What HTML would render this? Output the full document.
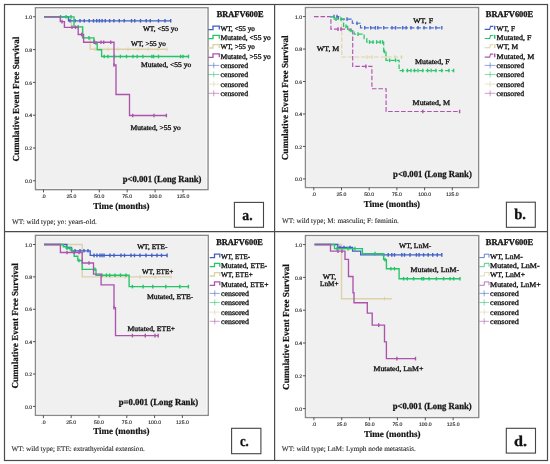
<!DOCTYPE html>
<html><head><meta charset="utf-8"><style>
html,body{margin:0;padding:0;background:#fff;width:550px;height:464px;overflow:hidden;}
svg{display:block;will-change:transform;text-rendering:geometricPrecision;}
</style></head><body>
<svg width="550" height="464" viewBox="0 0 550 464">
<rect x="0" y="0" width="550" height="464" fill="#fff"/>
<rect x="4.5" y="4.5" width="543" height="456" fill="none" stroke="#4a4a4a" stroke-width="1.2"/>
<path d="M274.6,4.5 V460.5 M4.5,231.6 H547.5" stroke="#4a4a4a" stroke-width="1.2" fill="none"/>
<rect x="35.5" y="7.8" width="172.5" height="181.79999999999998" fill="#f0f0f0" stroke="#8a8a8a" stroke-width="1.5"/>
<rect x="36.75" y="9.05" width="170.0" height="179.29999999999998" fill="none" stroke="#fafafa" stroke-width="0.9"/>
<path d="M32.90,180.80 H35.50" fill="none" stroke="#444" stroke-width="0.9"/>
<text x="32.20" y="183.00" font-family='"Liberation Sans", sans-serif' font-size="5.1" text-anchor="end" fill="#1a1a1a" stroke="#1a1a1a" stroke-width="0.12">0.0</text>
<path d="M32.90,148.00 H35.50" fill="none" stroke="#444" stroke-width="0.9"/>
<text x="32.20" y="150.20" font-family='"Liberation Sans", sans-serif' font-size="5.1" text-anchor="end" fill="#1a1a1a" stroke="#1a1a1a" stroke-width="0.12">0.2</text>
<path d="M32.90,115.20 H35.50" fill="none" stroke="#444" stroke-width="0.9"/>
<text x="32.20" y="117.40" font-family='"Liberation Sans", sans-serif' font-size="5.1" text-anchor="end" fill="#1a1a1a" stroke="#1a1a1a" stroke-width="0.12">0.4</text>
<path d="M32.90,82.40 H35.50" fill="none" stroke="#444" stroke-width="0.9"/>
<text x="32.20" y="84.60" font-family='"Liberation Sans", sans-serif' font-size="5.1" text-anchor="end" fill="#1a1a1a" stroke="#1a1a1a" stroke-width="0.12">0.6</text>
<path d="M32.90,49.60 H35.50" fill="none" stroke="#444" stroke-width="0.9"/>
<text x="32.20" y="51.80" font-family='"Liberation Sans", sans-serif' font-size="5.1" text-anchor="end" fill="#1a1a1a" stroke="#1a1a1a" stroke-width="0.12">0.8</text>
<path d="M32.90,16.80 H35.50" fill="none" stroke="#444" stroke-width="0.9"/>
<text x="32.20" y="19.00" font-family='"Liberation Sans", sans-serif' font-size="5.1" text-anchor="end" fill="#1a1a1a" stroke="#1a1a1a" stroke-width="0.12">1.0</text>
<path d="M43.50,189.60 V192.40" fill="none" stroke="#444" stroke-width="0.9"/>
<text x="43.50" y="198.00" font-family='"Liberation Sans", sans-serif' font-size="5.1" text-anchor="middle" fill="#1a1a1a" stroke="#1a1a1a" stroke-width="0.12">.0</text>
<path d="M71.40,189.60 V192.40" fill="none" stroke="#444" stroke-width="0.9"/>
<text x="71.40" y="198.00" font-family='"Liberation Sans", sans-serif' font-size="5.1" text-anchor="middle" fill="#1a1a1a" stroke="#1a1a1a" stroke-width="0.12">25.0</text>
<path d="M99.30,189.60 V192.40" fill="none" stroke="#444" stroke-width="0.9"/>
<text x="99.30" y="198.00" font-family='"Liberation Sans", sans-serif' font-size="5.1" text-anchor="middle" fill="#1a1a1a" stroke="#1a1a1a" stroke-width="0.12">50.0</text>
<path d="M127.20,189.60 V192.40" fill="none" stroke="#444" stroke-width="0.9"/>
<text x="127.20" y="198.00" font-family='"Liberation Sans", sans-serif' font-size="5.1" text-anchor="middle" fill="#1a1a1a" stroke="#1a1a1a" stroke-width="0.12">75.0</text>
<path d="M155.10,189.60 V192.40" fill="none" stroke="#444" stroke-width="0.9"/>
<text x="155.10" y="198.00" font-family='"Liberation Sans", sans-serif' font-size="5.1" text-anchor="middle" fill="#1a1a1a" stroke="#1a1a1a" stroke-width="0.12">100.0</text>
<path d="M183.00,189.60 V192.40" fill="none" stroke="#444" stroke-width="0.9"/>
<text x="183.00" y="198.00" font-family='"Liberation Sans", sans-serif' font-size="5.1" text-anchor="middle" fill="#1a1a1a" stroke="#1a1a1a" stroke-width="0.12">125.0</text>
<text x="0" y="0" transform="translate(18.60,99.10) rotate(-90)" font-family='"Liberation Serif", serif' font-size="9.2" font-weight="bold" text-anchor="middle" textLength="125.00" lengthAdjust="spacingAndGlyphs" fill="#111" stroke="#111" stroke-width="0.2">Cumulative Event Free Survival</text>
<text x="93.20" y="209.20" font-family='"Liberation Serif", serif' font-size="9.2" font-weight="bold" textLength="56.40" lengthAdjust="spacingAndGlyphs" text-anchor="start" fill="#111" stroke="#111" stroke-width="0.2">Time (months)</text>
<path d="M44,16.8 H71.4 V26.8 H82.4 V37.9 H90.2 V49.2 H167" fill="none" stroke="#dbd2a8" stroke-width="1.35"/>
<path d="M95.00,47.40 V51.00" fill="none" stroke="#dbd2a8" stroke-width="1.0"/>
<path d="M100.00,47.40 V51.00" fill="none" stroke="#dbd2a8" stroke-width="1.0"/>
<path d="M108.00,47.40 V51.00" fill="none" stroke="#dbd2a8" stroke-width="1.0"/>
<path d="M118.00,47.40 V51.00" fill="none" stroke="#dbd2a8" stroke-width="1.0"/>
<path d="M128.00,47.40 V51.00" fill="none" stroke="#dbd2a8" stroke-width="1.0"/>
<path d="M138.00,47.40 V51.00" fill="none" stroke="#dbd2a8" stroke-width="1.0"/>
<path d="M148.00,47.40 V51.00" fill="none" stroke="#dbd2a8" stroke-width="1.0"/>
<path d="M158.00,47.40 V51.00" fill="none" stroke="#dbd2a8" stroke-width="1.0"/>
<path d="M167.00,47.40 V51.00" fill="none" stroke="#dbd2a8" stroke-width="1.0"/>
<path d="M44,16.8 H68.5 V20.8 H170.7" fill="none" stroke="#4060c4" stroke-width="1.35"/>
<path d="M70.00,19.00 V22.60" fill="none" stroke="#4060c4" stroke-width="1.4"/>
<path d="M75.00,19.00 V22.60" fill="none" stroke="#4060c4" stroke-width="1.4"/>
<path d="M80.00,19.00 V22.60" fill="none" stroke="#4060c4" stroke-width="1.4"/>
<path d="M84.30,19.00 V22.60" fill="none" stroke="#4060c4" stroke-width="1.4"/>
<path d="M89.20,19.00 V22.60" fill="none" stroke="#4060c4" stroke-width="1.4"/>
<path d="M93.50,19.00 V22.60" fill="none" stroke="#4060c4" stroke-width="1.4"/>
<path d="M96.70,19.00 V22.60" fill="none" stroke="#4060c4" stroke-width="1.4"/>
<path d="M99.40,19.00 V22.60" fill="none" stroke="#4060c4" stroke-width="1.4"/>
<path d="M102.10,19.00 V22.60" fill="none" stroke="#4060c4" stroke-width="1.4"/>
<path d="M105.30,19.00 V22.60" fill="none" stroke="#4060c4" stroke-width="1.4"/>
<path d="M109.60,19.00 V22.60" fill="none" stroke="#4060c4" stroke-width="1.4"/>
<path d="M113.90,19.00 V22.60" fill="none" stroke="#4060c4" stroke-width="1.4"/>
<path d="M119.30,19.00 V22.60" fill="none" stroke="#4060c4" stroke-width="1.4"/>
<path d="M124.20,19.00 V22.60" fill="none" stroke="#4060c4" stroke-width="1.4"/>
<path d="M131.50,19.00 V22.60" fill="none" stroke="#4060c4" stroke-width="1.4"/>
<path d="M134.70,19.00 V22.60" fill="none" stroke="#4060c4" stroke-width="1.4"/>
<path d="M140.50,19.00 V22.60" fill="none" stroke="#4060c4" stroke-width="1.4"/>
<path d="M146.20,19.00 V22.60" fill="none" stroke="#4060c4" stroke-width="1.4"/>
<path d="M150.30,19.00 V22.60" fill="none" stroke="#4060c4" stroke-width="1.4"/>
<path d="M158.50,19.00 V22.60" fill="none" stroke="#4060c4" stroke-width="1.4"/>
<path d="M165.00,19.00 V22.60" fill="none" stroke="#4060c4" stroke-width="1.4"/>
<path d="M170.70,19.00 V22.60" fill="none" stroke="#4060c4" stroke-width="1.4"/>
<path d="M44,16.8 H74 V26.8 H82.7 V37.9 H94 V43.3 H97.2 V49.7 H101.6 V56.5 H188.5" fill="none" stroke="#25c468" stroke-width="1.35"/>
<path d="M60.50,15.00 V18.60" fill="none" stroke="#25c468" stroke-width="1.4"/>
<path d="M66.00,15.00 V18.60" fill="none" stroke="#25c468" stroke-width="1.4"/>
<path d="M71.00,15.00 V18.60" fill="none" stroke="#25c468" stroke-width="1.4"/>
<path d="M78.20,25.00 V28.60" fill="none" stroke="#25c468" stroke-width="1.4"/>
<path d="M89.00,36.10 V39.70" fill="none" stroke="#25c468" stroke-width="1.4"/>
<path d="M94.00,39.20 V42.80" fill="none" stroke="#25c468" stroke-width="1.4"/>
<path d="M96.00,41.50 V45.10" fill="none" stroke="#25c468" stroke-width="1.4"/>
<path d="M104.20,54.70 V58.30" fill="none" stroke="#25c468" stroke-width="1.4"/>
<path d="M108.00,54.70 V58.30" fill="none" stroke="#25c468" stroke-width="1.4"/>
<path d="M114.50,54.70 V58.30" fill="none" stroke="#25c468" stroke-width="1.4"/>
<path d="M120.40,54.70 V58.30" fill="none" stroke="#25c468" stroke-width="1.4"/>
<path d="M126.50,54.70 V58.30" fill="none" stroke="#25c468" stroke-width="1.4"/>
<path d="M133.00,54.70 V58.30" fill="none" stroke="#25c468" stroke-width="1.4"/>
<path d="M137.20,54.70 V58.30" fill="none" stroke="#25c468" stroke-width="1.4"/>
<path d="M142.90,54.70 V58.30" fill="none" stroke="#25c468" stroke-width="1.4"/>
<path d="M151.90,54.70 V58.30" fill="none" stroke="#25c468" stroke-width="1.4"/>
<path d="M153.60,54.70 V58.30" fill="none" stroke="#25c468" stroke-width="1.4"/>
<path d="M158.50,54.70 V58.30" fill="none" stroke="#25c468" stroke-width="1.4"/>
<path d="M180.60,54.70 V58.30" fill="none" stroke="#25c468" stroke-width="1.4"/>
<path d="M183.00,54.70 V58.30" fill="none" stroke="#25c468" stroke-width="1.4"/>
<path d="M188.50,54.70 V58.30" fill="none" stroke="#25c468" stroke-width="1.4"/>
<path d="M44,16.8 H60.3 V21.6 H64.4 V27.3 H78.2 V34.5 H83.6 V42.2 H114 V65 H116 V94.5 H129.5 V115.5 H166.4" fill="none" stroke="#ac54ac" stroke-width="1.35"/>
<path d="M62.00,19.80 V23.40" fill="none" stroke="#ac54ac" stroke-width="1.4"/>
<path d="M72.00,25.50 V29.10" fill="none" stroke="#ac54ac" stroke-width="1.4"/>
<path d="M75.50,25.50 V29.10" fill="none" stroke="#ac54ac" stroke-width="1.4"/>
<path d="M81.60,32.70 V36.30" fill="none" stroke="#ac54ac" stroke-width="1.4"/>
<path d="M94.50,40.40 V44.00" fill="none" stroke="#ac54ac" stroke-width="1.4"/>
<path d="M101.00,40.40 V44.00" fill="none" stroke="#ac54ac" stroke-width="1.4"/>
<path d="M103.70,40.40 V44.00" fill="none" stroke="#ac54ac" stroke-width="1.4"/>
<path d="M110.70,40.40 V44.00" fill="none" stroke="#ac54ac" stroke-width="1.4"/>
<path d="M114.00,63.20 V66.80" fill="none" stroke="#ac54ac" stroke-width="1.4"/>
<path d="M132.70,113.70 V117.30" fill="none" stroke="#ac54ac" stroke-width="1.4"/>
<path d="M154.00,113.70 V117.30" fill="none" stroke="#ac54ac" stroke-width="1.4"/>
<path d="M166.40,113.70 V117.30" fill="none" stroke="#ac54ac" stroke-width="1.4"/>
<text x="142.90" y="31.30" font-family='"Liberation Serif", serif' font-size="7.1" textLength="35.20" lengthAdjust="spacingAndGlyphs" text-anchor="start" fill="#151515" stroke="#151515" stroke-width="0.33">WT, &lt;55 yo</text>
<text x="131.10" y="45.50" font-family='"Liberation Serif", serif' font-size="7.1" textLength="34.70" lengthAdjust="spacingAndGlyphs" text-anchor="start" fill="#151515" stroke="#151515" stroke-width="0.33">WT, &gt;55 yo</text>
<text x="141.00" y="66.80" font-family='"Liberation Serif", serif' font-size="7.1" textLength="50.20" lengthAdjust="spacingAndGlyphs" text-anchor="start" fill="#151515" stroke="#151515" stroke-width="0.33">Mutated, &lt;55 yo</text>
<text x="130.50" y="130.30" font-family='"Liberation Serif", serif' font-size="7.1" textLength="50.40" lengthAdjust="spacingAndGlyphs" text-anchor="start" fill="#151515" stroke="#151515" stroke-width="0.33">Mutated, &gt;55 yo</text>
<text x="122.80" y="182.30" font-family='"Liberation Serif", serif' font-size="9.2" font-weight="bold" textLength="78.60" lengthAdjust="spacingAndGlyphs" text-anchor="start" fill="#111" stroke="#111" stroke-width="0.25">p&lt;0.001 (Long Rank)</text>
<text x="216.70" y="17.30" font-family='"Liberation Serif", serif' font-size="8.8" font-weight="bold" textLength="46.80" lengthAdjust="spacingAndGlyphs" text-anchor="start" fill="#111" stroke="#111" stroke-width="0.3">BRAFV600E</text>
<text x="220.50" y="30.90" font-family='"Liberation Serif", serif' font-size="7.4" textLength="34.40" lengthAdjust="spacingAndGlyphs" text-anchor="start" fill="#151515" stroke="#151515" stroke-width="0.33">WT, &lt;55 yo</text>
<path d="M208.20,29.60 H213.00 V26.20 H219.30 V29.60" fill="none" stroke="#4060c4" stroke-width="1.3"/>
<text x="220.50" y="40.00" font-family='"Liberation Serif", serif' font-size="7.4" textLength="50.40" lengthAdjust="spacingAndGlyphs" text-anchor="start" fill="#151515" stroke="#151515" stroke-width="0.33">Mutated, &lt;55 yo</text>
<path d="M208.20,38.70 H213.00 V35.30 H219.30 V38.70" fill="none" stroke="#25c468" stroke-width="1.3"/>
<text x="220.50" y="49.30" font-family='"Liberation Serif", serif' font-size="7.4" textLength="34.40" lengthAdjust="spacingAndGlyphs" text-anchor="start" fill="#151515" stroke="#151515" stroke-width="0.33">WT, &gt;55 yo</text>
<path d="M208.20,48.00 H213.00 V44.60 H219.30 V48.00" fill="none" stroke="#dbd2a8" stroke-width="1.3"/>
<text x="220.50" y="58.60" font-family='"Liberation Serif", serif' font-size="7.4" textLength="50.40" lengthAdjust="spacingAndGlyphs" text-anchor="start" fill="#151515" stroke="#151515" stroke-width="0.33">Mutated, &gt;55 yo</text>
<path d="M208.20,57.30 H213.00 V53.90 H219.30 V57.30" fill="none" stroke="#ac54ac" stroke-width="1.3"/>
<text x="220.50" y="67.80" font-family='"Liberation Serif", serif' font-size="7.4" textLength="27.60" lengthAdjust="spacingAndGlyphs" text-anchor="start" fill="#151515" stroke="#151515" stroke-width="0.33">censored</text>
<path d="M208.20,65.40 H219.30 M213.75,62.40 V68.40" fill="none" stroke="#4060c4" stroke-width="0.75" opacity="0.75"/>
<text x="220.50" y="76.90" font-family='"Liberation Serif", serif' font-size="7.4" textLength="27.60" lengthAdjust="spacingAndGlyphs" text-anchor="start" fill="#151515" stroke="#151515" stroke-width="0.33">censored</text>
<path d="M208.20,74.50 H219.30 M213.75,71.50 V77.50" fill="none" stroke="#25c468" stroke-width="0.75" opacity="0.75"/>
<text x="220.50" y="86.50" font-family='"Liberation Serif", serif' font-size="7.4" textLength="27.60" lengthAdjust="spacingAndGlyphs" text-anchor="start" fill="#151515" stroke="#151515" stroke-width="0.33">censored</text>
<path d="M208.20,84.10 H219.30 M213.75,81.10 V87.10" fill="none" stroke="#dbd2a8" stroke-width="0.75" opacity="0.75"/>
<text x="220.50" y="95.70" font-family='"Liberation Serif", serif' font-size="7.4" textLength="27.60" lengthAdjust="spacingAndGlyphs" text-anchor="start" fill="#151515" stroke="#151515" stroke-width="0.33">censored</text>
<path d="M208.20,93.30 H219.30 M213.75,90.30 V96.30" fill="none" stroke="#ac54ac" stroke-width="0.75" opacity="0.75"/>
<text x="11.90" y="224.20" font-family='"Liberation Serif", serif' font-size="7.2" textLength="84.90" lengthAdjust="spacingAndGlyphs" text-anchor="start" fill="#2a2a2a" stroke="#2a2a2a" stroke-width="0.12">WT: wild type; yo: years-old.</text>
<rect x="234.40" y="202.40" width="29.10" height="24.90" fill="#fff" stroke="#444" stroke-width="1.1"/>
<text x="242.30" y="219.50" font-family='"Liberation Serif", serif' font-size="15" font-weight="bold" textLength="10.30" lengthAdjust="spacingAndGlyphs" text-anchor="start" fill="#111" stroke="#111" stroke-width="0.3">a.</text>
<rect x="305.5" y="7.6" width="173.0" height="179.9" fill="#f0f0f0" stroke="#8a8a8a" stroke-width="1.5"/>
<rect x="306.75" y="8.85" width="170.5" height="177.4" fill="none" stroke="#fafafa" stroke-width="0.9"/>
<path d="M302.90,178.90 H305.50" fill="none" stroke="#444" stroke-width="0.9"/>
<text x="302.20" y="181.10" font-family='"Liberation Sans", sans-serif' font-size="5.1" text-anchor="end" fill="#1a1a1a" stroke="#1a1a1a" stroke-width="0.12">0.0</text>
<path d="M302.90,146.44 H305.50" fill="none" stroke="#444" stroke-width="0.9"/>
<text x="302.20" y="148.64" font-family='"Liberation Sans", sans-serif' font-size="5.1" text-anchor="end" fill="#1a1a1a" stroke="#1a1a1a" stroke-width="0.12">0.2</text>
<path d="M302.90,113.98 H305.50" fill="none" stroke="#444" stroke-width="0.9"/>
<text x="302.20" y="116.18" font-family='"Liberation Sans", sans-serif' font-size="5.1" text-anchor="end" fill="#1a1a1a" stroke="#1a1a1a" stroke-width="0.12">0.4</text>
<path d="M302.90,81.52 H305.50" fill="none" stroke="#444" stroke-width="0.9"/>
<text x="302.20" y="83.72" font-family='"Liberation Sans", sans-serif' font-size="5.1" text-anchor="end" fill="#1a1a1a" stroke="#1a1a1a" stroke-width="0.12">0.6</text>
<path d="M302.90,49.06 H305.50" fill="none" stroke="#444" stroke-width="0.9"/>
<text x="302.20" y="51.26" font-family='"Liberation Sans", sans-serif' font-size="5.1" text-anchor="end" fill="#1a1a1a" stroke="#1a1a1a" stroke-width="0.12">0.8</text>
<path d="M302.90,16.60 H305.50" fill="none" stroke="#444" stroke-width="0.9"/>
<text x="302.20" y="18.80" font-family='"Liberation Sans", sans-serif' font-size="5.1" text-anchor="end" fill="#1a1a1a" stroke="#1a1a1a" stroke-width="0.12">1.0</text>
<path d="M313.80,187.50 V190.30" fill="none" stroke="#444" stroke-width="0.9"/>
<text x="313.80" y="195.60" font-family='"Liberation Sans", sans-serif' font-size="5.1" text-anchor="middle" fill="#1a1a1a" stroke="#1a1a1a" stroke-width="0.12">.0</text>
<path d="M341.50,187.50 V190.30" fill="none" stroke="#444" stroke-width="0.9"/>
<text x="341.50" y="195.60" font-family='"Liberation Sans", sans-serif' font-size="5.1" text-anchor="middle" fill="#1a1a1a" stroke="#1a1a1a" stroke-width="0.12">25.0</text>
<path d="M369.20,187.50 V190.30" fill="none" stroke="#444" stroke-width="0.9"/>
<text x="369.20" y="195.60" font-family='"Liberation Sans", sans-serif' font-size="5.1" text-anchor="middle" fill="#1a1a1a" stroke="#1a1a1a" stroke-width="0.12">50.0</text>
<path d="M396.90,187.50 V190.30" fill="none" stroke="#444" stroke-width="0.9"/>
<text x="396.90" y="195.60" font-family='"Liberation Sans", sans-serif' font-size="5.1" text-anchor="middle" fill="#1a1a1a" stroke="#1a1a1a" stroke-width="0.12">75.0</text>
<path d="M424.60,187.50 V190.30" fill="none" stroke="#444" stroke-width="0.9"/>
<text x="424.60" y="195.60" font-family='"Liberation Sans", sans-serif' font-size="5.1" text-anchor="middle" fill="#1a1a1a" stroke="#1a1a1a" stroke-width="0.12">100.0</text>
<path d="M452.30,187.50 V190.30" fill="none" stroke="#444" stroke-width="0.9"/>
<text x="452.30" y="195.60" font-family='"Liberation Sans", sans-serif' font-size="5.1" text-anchor="middle" fill="#1a1a1a" stroke="#1a1a1a" stroke-width="0.12">125.0</text>
<text x="0" y="0" transform="translate(288.30,97.80) rotate(-90)" font-family='"Liberation Serif", serif' font-size="9.2" font-weight="bold" text-anchor="middle" textLength="124.80" lengthAdjust="spacingAndGlyphs" fill="#111" stroke="#111" stroke-width="0.2">Cumulative Event Free Survival</text>
<text x="363.80" y="207.00" font-family='"Liberation Serif", serif' font-size="9.2" font-weight="bold" textLength="56.30" lengthAdjust="spacingAndGlyphs" text-anchor="start" fill="#111" stroke="#111" stroke-width="0.2">Time (months)</text>
<path d="M330,16.6 H341.8 V57 H402.7" fill="none" stroke="#dcd3a6" stroke-width="1.1" stroke-dasharray="4.6,1.9"/>
<path d="M367.00,55.20 V58.80" fill="none" stroke="#dcd3a6" stroke-width="1.0"/>
<path d="M372.00,55.20 V58.80" fill="none" stroke="#dcd3a6" stroke-width="1.0"/>
<path d="M386.00,55.20 V58.80" fill="none" stroke="#dcd3a6" stroke-width="1.0"/>
<path d="M395.00,55.20 V58.80" fill="none" stroke="#dcd3a6" stroke-width="1.0"/>
<path d="M401.50,55.20 V58.80" fill="none" stroke="#dcd3a6" stroke-width="1.0"/>
<path d="M314,16.6 H330.9 V29.1 H352.7 V66.4 H371.9 V88.7 H386.1 V111.5 H459.6" fill="none" stroke="#b152b3" stroke-width="1.15" stroke-dasharray="4.6,1.9"/>
<path d="M338.00,27.30 V30.90" fill="none" stroke="#b152b3" stroke-width="1.4"/>
<path d="M341.00,27.30 V30.90" fill="none" stroke="#b152b3" stroke-width="1.4"/>
<path d="M365.90,64.60 V68.20" fill="none" stroke="#b152b3" stroke-width="1.4"/>
<path d="M422.80,109.70 V113.30" fill="none" stroke="#b152b3" stroke-width="1.4"/>
<path d="M459.60,109.70 V113.30" fill="none" stroke="#b152b3" stroke-width="1.4"/>
<path d="M330,16.6 H338.5 V19.1 H352.3 V23.2 H360.5 V27.8 H441.8" fill="none" stroke="#4a6cc8" stroke-width="1.15" stroke-dasharray="4.6,1.9"/>
<path d="M334.00,14.80 V18.40" fill="none" stroke="#4a6cc8" stroke-width="1.4"/>
<path d="M337.00,14.80 V18.40" fill="none" stroke="#4a6cc8" stroke-width="1.4"/>
<path d="M347.00,17.30 V20.90" fill="none" stroke="#4a6cc8" stroke-width="1.4"/>
<path d="M357.00,21.40 V25.00" fill="none" stroke="#4a6cc8" stroke-width="1.4"/>
<path d="M364.70,26.00 V29.60" fill="none" stroke="#4a6cc8" stroke-width="1.4"/>
<path d="M370.70,26.00 V29.60" fill="none" stroke="#4a6cc8" stroke-width="1.4"/>
<path d="M375.40,26.00 V29.60" fill="none" stroke="#4a6cc8" stroke-width="1.4"/>
<path d="M377.80,26.00 V29.60" fill="none" stroke="#4a6cc8" stroke-width="1.4"/>
<path d="M383.70,26.00 V29.60" fill="none" stroke="#4a6cc8" stroke-width="1.4"/>
<path d="M392.00,26.00 V29.60" fill="none" stroke="#4a6cc8" stroke-width="1.4"/>
<path d="M395.60,26.00 V29.60" fill="none" stroke="#4a6cc8" stroke-width="1.4"/>
<path d="M402.70,26.00 V29.60" fill="none" stroke="#4a6cc8" stroke-width="1.4"/>
<path d="M406.20,26.00 V29.60" fill="none" stroke="#4a6cc8" stroke-width="1.4"/>
<path d="M411.00,26.00 V29.60" fill="none" stroke="#4a6cc8" stroke-width="1.4"/>
<path d="M418.00,26.00 V29.60" fill="none" stroke="#4a6cc8" stroke-width="1.4"/>
<path d="M424.00,26.00 V29.60" fill="none" stroke="#4a6cc8" stroke-width="1.4"/>
<path d="M430.00,26.00 V29.60" fill="none" stroke="#4a6cc8" stroke-width="1.4"/>
<path d="M435.90,26.00 V29.60" fill="none" stroke="#4a6cc8" stroke-width="1.4"/>
<path d="M441.80,26.00 V29.60" fill="none" stroke="#4a6cc8" stroke-width="1.4"/>
<path d="M330,16.6 H334.1 V19.1 H343.6 V26.4 H347.7 V30.5 H354.1 V34.1 H364.1 V38.6 H366.8 V42 H383.7 V51.5 H386 V60.3 H399.1 V70.5 H453.6" fill="none" stroke="#2cc66c" stroke-width="1.25" stroke-dasharray="4.6,1.9"/>
<path d="M336.00,17.30 V20.90" fill="none" stroke="#2cc66c" stroke-width="1.4"/>
<path d="M341.00,17.30 V20.90" fill="none" stroke="#2cc66c" stroke-width="1.4"/>
<path d="M346.00,24.60 V28.20" fill="none" stroke="#2cc66c" stroke-width="1.4"/>
<path d="M351.00,28.70 V32.30" fill="none" stroke="#2cc66c" stroke-width="1.4"/>
<path d="M358.00,32.30 V35.90" fill="none" stroke="#2cc66c" stroke-width="1.4"/>
<path d="M369.50,40.20 V43.80" fill="none" stroke="#2cc66c" stroke-width="1.4"/>
<path d="M373.00,40.20 V43.80" fill="none" stroke="#2cc66c" stroke-width="1.4"/>
<path d="M376.60,40.20 V43.80" fill="none" stroke="#2cc66c" stroke-width="1.4"/>
<path d="M380.20,40.20 V43.80" fill="none" stroke="#2cc66c" stroke-width="1.4"/>
<path d="M382.50,40.20 V43.80" fill="none" stroke="#2cc66c" stroke-width="1.4"/>
<path d="M384.50,49.70 V53.30" fill="none" stroke="#2cc66c" stroke-width="1.4"/>
<path d="M389.60,58.50 V62.10" fill="none" stroke="#2cc66c" stroke-width="1.4"/>
<path d="M395.60,58.50 V62.10" fill="none" stroke="#2cc66c" stroke-width="1.4"/>
<path d="M402.70,68.70 V72.30" fill="none" stroke="#2cc66c" stroke-width="1.4"/>
<path d="M407.40,68.70 V72.30" fill="none" stroke="#2cc66c" stroke-width="1.4"/>
<path d="M411.00,68.70 V72.30" fill="none" stroke="#2cc66c" stroke-width="1.4"/>
<path d="M414.50,68.70 V72.30" fill="none" stroke="#2cc66c" stroke-width="1.4"/>
<path d="M418.00,68.70 V72.30" fill="none" stroke="#2cc66c" stroke-width="1.4"/>
<path d="M422.80,68.70 V72.30" fill="none" stroke="#2cc66c" stroke-width="1.4"/>
<path d="M427.60,68.70 V72.30" fill="none" stroke="#2cc66c" stroke-width="1.4"/>
<path d="M431.10,68.70 V72.30" fill="none" stroke="#2cc66c" stroke-width="1.4"/>
<path d="M435.90,68.70 V72.30" fill="none" stroke="#2cc66c" stroke-width="1.4"/>
<path d="M441.80,68.70 V72.30" fill="none" stroke="#2cc66c" stroke-width="1.4"/>
<path d="M448.90,68.70 V72.30" fill="none" stroke="#2cc66c" stroke-width="1.4"/>
<path d="M453.60,68.70 V72.30" fill="none" stroke="#2cc66c" stroke-width="1.4"/>
<text x="413.30" y="22.60" font-family='"Liberation Serif", serif' font-size="7.1" textLength="19.70" lengthAdjust="spacingAndGlyphs" text-anchor="start" fill="#151515" stroke="#151515" stroke-width="0.33">WT, F</text>
<text x="415.00" y="64.30" font-family='"Liberation Serif", serif' font-size="7.1" textLength="34.60" lengthAdjust="spacingAndGlyphs" text-anchor="start" fill="#151515" stroke="#151515" stroke-width="0.33">Mutated, F</text>
<text x="316.80" y="50.60" font-family='"Liberation Serif", serif' font-size="7.1" textLength="22.50" lengthAdjust="spacingAndGlyphs" text-anchor="start" fill="#151515" stroke="#151515" stroke-width="0.33">WT, M</text>
<text x="412.60" y="105.10" font-family='"Liberation Serif", serif' font-size="7.1" textLength="37.50" lengthAdjust="spacingAndGlyphs" text-anchor="start" fill="#151515" stroke="#151515" stroke-width="0.33">Mutated, M</text>
<text x="393.10" y="176.70" font-family='"Liberation Serif", serif' font-size="9.2" font-weight="bold" textLength="78.70" lengthAdjust="spacingAndGlyphs" text-anchor="start" fill="#111" stroke="#111" stroke-width="0.25">p&lt;0.001 (Long Rank)</text>
<text x="485.80" y="17.20" font-family='"Liberation Serif", serif' font-size="8.8" font-weight="bold" textLength="47.40" lengthAdjust="spacingAndGlyphs" text-anchor="start" fill="#111" stroke="#111" stroke-width="0.3">BRAFV600E</text>
<text x="496.60" y="30.90" font-family='"Liberation Serif", serif' font-size="7.4" textLength="18.30" lengthAdjust="spacingAndGlyphs" text-anchor="start" fill="#151515" stroke="#151515" stroke-width="0.33">WT, F</text>
<path d="M484.70,29.40 H489.70 L490.50,26.40 H493.30" fill="none" stroke="#4060c4" stroke-width="1.1"/>
<path d="M494.70,25.80 V29.60" fill="none" stroke="#4060c4" stroke-width="1.5"/>
<text x="496.60" y="40.00" font-family='"Liberation Serif", serif' font-size="7.4" textLength="34.90" lengthAdjust="spacingAndGlyphs" text-anchor="start" fill="#151515" stroke="#151515" stroke-width="0.33">Mutated, F</text>
<path d="M484.70,38.50 H489.70 L490.50,35.50 H493.30" fill="none" stroke="#25c468" stroke-width="1.1"/>
<path d="M494.70,34.90 V38.70" fill="none" stroke="#25c468" stroke-width="1.5"/>
<text x="496.60" y="49.30" font-family='"Liberation Serif", serif' font-size="7.4" textLength="21.50" lengthAdjust="spacingAndGlyphs" text-anchor="start" fill="#151515" stroke="#151515" stroke-width="0.33">WT, M</text>
<path d="M484.70,47.80 H489.70 L490.50,44.80 H493.30" fill="none" stroke="#dbd2a8" stroke-width="1.1"/>
<path d="M494.70,44.20 V48.00" fill="none" stroke="#dbd2a8" stroke-width="1.5"/>
<text x="496.60" y="58.60" font-family='"Liberation Serif", serif' font-size="7.4" textLength="37.70" lengthAdjust="spacingAndGlyphs" text-anchor="start" fill="#151515" stroke="#151515" stroke-width="0.33">Mutated, M</text>
<path d="M484.70,57.10 H489.70 L490.50,54.10 H493.30" fill="none" stroke="#ac54ac" stroke-width="1.1"/>
<path d="M494.70,53.50 V57.30" fill="none" stroke="#ac54ac" stroke-width="1.5"/>
<text x="496.60" y="67.80" font-family='"Liberation Serif", serif' font-size="7.4" textLength="27.50" lengthAdjust="spacingAndGlyphs" text-anchor="start" fill="#151515" stroke="#151515" stroke-width="0.33">censored</text>
<path d="M484.70,65.40 H495.50 M490.10,62.40 V68.40" fill="none" stroke="#4060c4" stroke-width="0.75" opacity="0.75"/>
<text x="496.60" y="76.90" font-family='"Liberation Serif", serif' font-size="7.4" textLength="27.50" lengthAdjust="spacingAndGlyphs" text-anchor="start" fill="#151515" stroke="#151515" stroke-width="0.33">censored</text>
<path d="M484.70,74.50 H495.50 M490.10,71.50 V77.50" fill="none" stroke="#25c468" stroke-width="0.75" opacity="0.75"/>
<text x="496.60" y="86.50" font-family='"Liberation Serif", serif' font-size="7.4" textLength="27.50" lengthAdjust="spacingAndGlyphs" text-anchor="start" fill="#151515" stroke="#151515" stroke-width="0.33">censored</text>
<path d="M484.70,84.10 H495.50 M490.10,81.10 V87.10" fill="none" stroke="#dbd2a8" stroke-width="0.75" opacity="0.75"/>
<text x="496.60" y="95.70" font-family='"Liberation Serif", serif' font-size="7.4" textLength="27.50" lengthAdjust="spacingAndGlyphs" text-anchor="start" fill="#151515" stroke="#151515" stroke-width="0.33">censored</text>
<path d="M484.70,93.30 H495.50 M490.10,90.30 V96.30" fill="none" stroke="#ac54ac" stroke-width="0.75" opacity="0.75"/>
<text x="282.00" y="222.80" font-family='"Liberation Serif", serif' font-size="7.2" textLength="116.90" lengthAdjust="spacingAndGlyphs" text-anchor="start" fill="#2a2a2a" stroke="#2a2a2a" stroke-width="0.12">WT: wild type; M: masculin; F: feminin.</text>
<rect x="506.40" y="202.20" width="28.90" height="25.10" fill="#fff" stroke="#444" stroke-width="1.1"/>
<text x="514.20" y="219.20" font-family='"Liberation Serif", serif' font-size="15" font-weight="bold" textLength="11.80" lengthAdjust="spacingAndGlyphs" text-anchor="start" fill="#111" stroke="#111" stroke-width="0.3">b.</text>
<rect x="35.5" y="235.4" width="172.7" height="179.9" fill="#f0f0f0" stroke="#8a8a8a" stroke-width="1.5"/>
<rect x="36.75" y="236.65" width="170.2" height="177.4" fill="none" stroke="#fafafa" stroke-width="0.9"/>
<path d="M32.90,406.40 H35.50" fill="none" stroke="#444" stroke-width="0.9"/>
<text x="32.20" y="408.60" font-family='"Liberation Sans", sans-serif' font-size="5.1" text-anchor="end" fill="#1a1a1a" stroke="#1a1a1a" stroke-width="0.12">0.0</text>
<path d="M32.90,374.02 H35.50" fill="none" stroke="#444" stroke-width="0.9"/>
<text x="32.20" y="376.22" font-family='"Liberation Sans", sans-serif' font-size="5.1" text-anchor="end" fill="#1a1a1a" stroke="#1a1a1a" stroke-width="0.12">0.2</text>
<path d="M32.90,341.64 H35.50" fill="none" stroke="#444" stroke-width="0.9"/>
<text x="32.20" y="343.84" font-family='"Liberation Sans", sans-serif' font-size="5.1" text-anchor="end" fill="#1a1a1a" stroke="#1a1a1a" stroke-width="0.12">0.4</text>
<path d="M32.90,309.26 H35.50" fill="none" stroke="#444" stroke-width="0.9"/>
<text x="32.20" y="311.46" font-family='"Liberation Sans", sans-serif' font-size="5.1" text-anchor="end" fill="#1a1a1a" stroke="#1a1a1a" stroke-width="0.12">0.6</text>
<path d="M32.90,276.88 H35.50" fill="none" stroke="#444" stroke-width="0.9"/>
<text x="32.20" y="279.08" font-family='"Liberation Sans", sans-serif' font-size="5.1" text-anchor="end" fill="#1a1a1a" stroke="#1a1a1a" stroke-width="0.12">0.8</text>
<path d="M32.90,244.50 H35.50" fill="none" stroke="#444" stroke-width="0.9"/>
<text x="32.20" y="246.70" font-family='"Liberation Sans", sans-serif' font-size="5.1" text-anchor="end" fill="#1a1a1a" stroke="#1a1a1a" stroke-width="0.12">1.0</text>
<path d="M43.40,415.30 V418.10" fill="none" stroke="#444" stroke-width="0.9"/>
<text x="43.40" y="423.80" font-family='"Liberation Sans", sans-serif' font-size="5.1" text-anchor="middle" fill="#1a1a1a" stroke="#1a1a1a" stroke-width="0.12">.0</text>
<path d="M71.20,415.30 V418.10" fill="none" stroke="#444" stroke-width="0.9"/>
<text x="71.20" y="423.80" font-family='"Liberation Sans", sans-serif' font-size="5.1" text-anchor="middle" fill="#1a1a1a" stroke="#1a1a1a" stroke-width="0.12">25.0</text>
<path d="M99.00,415.30 V418.10" fill="none" stroke="#444" stroke-width="0.9"/>
<text x="99.00" y="423.80" font-family='"Liberation Sans", sans-serif' font-size="5.1" text-anchor="middle" fill="#1a1a1a" stroke="#1a1a1a" stroke-width="0.12">50.0</text>
<path d="M126.80,415.30 V418.10" fill="none" stroke="#444" stroke-width="0.9"/>
<text x="126.80" y="423.80" font-family='"Liberation Sans", sans-serif' font-size="5.1" text-anchor="middle" fill="#1a1a1a" stroke="#1a1a1a" stroke-width="0.12">75.0</text>
<path d="M154.60,415.30 V418.10" fill="none" stroke="#444" stroke-width="0.9"/>
<text x="154.60" y="423.80" font-family='"Liberation Sans", sans-serif' font-size="5.1" text-anchor="middle" fill="#1a1a1a" stroke="#1a1a1a" stroke-width="0.12">100.0</text>
<path d="M182.40,415.30 V418.10" fill="none" stroke="#444" stroke-width="0.9"/>
<text x="182.40" y="423.80" font-family='"Liberation Sans", sans-serif' font-size="5.1" text-anchor="middle" fill="#1a1a1a" stroke="#1a1a1a" stroke-width="0.12">125.0</text>
<text x="0" y="0" transform="translate(18.20,325.85) rotate(-90)" font-family='"Liberation Serif", serif' font-size="9.2" font-weight="bold" text-anchor="middle" textLength="125.50" lengthAdjust="spacingAndGlyphs" fill="#111" stroke="#111" stroke-width="0.2">Cumulative Event Free Survival</text>
<text x="93.20" y="434.30" font-family='"Liberation Serif", serif' font-size="9.2" font-weight="bold" textLength="56.40" lengthAdjust="spacingAndGlyphs" text-anchor="start" fill="#111" stroke="#111" stroke-width="0.2">Time (months)</text>
<path d="M44,244.5 H82.2 V276.9 H171.2" fill="none" stroke="#dbd2a8" stroke-width="1.35"/>
<path d="M110.00,275.10 V278.70" fill="none" stroke="#dbd2a8" stroke-width="1.0"/>
<path d="M125.00,275.10 V278.70" fill="none" stroke="#dbd2a8" stroke-width="1.0"/>
<path d="M140.00,275.10 V278.70" fill="none" stroke="#dbd2a8" stroke-width="1.0"/>
<path d="M155.00,275.10 V278.70" fill="none" stroke="#dbd2a8" stroke-width="1.0"/>
<path d="M171.00,275.10 V278.70" fill="none" stroke="#dbd2a8" stroke-width="1.0"/>
<path d="M44,244.5 H66.9 V247.5 H71.3 V250.8 H90.2 V255.4 H167.1" fill="none" stroke="#4060c4" stroke-width="1.35"/>
<path d="M75.00,249.00 V252.60" fill="none" stroke="#4060c4" stroke-width="1.4"/>
<path d="M80.00,249.00 V252.60" fill="none" stroke="#4060c4" stroke-width="1.4"/>
<path d="M84.00,249.00 V252.60" fill="none" stroke="#4060c4" stroke-width="1.4"/>
<path d="M88.00,249.00 V252.60" fill="none" stroke="#4060c4" stroke-width="1.4"/>
<path d="M94.00,253.60 V257.20" fill="none" stroke="#4060c4" stroke-width="1.4"/>
<path d="M97.00,253.60 V257.20" fill="none" stroke="#4060c4" stroke-width="1.4"/>
<path d="M100.00,253.60 V257.20" fill="none" stroke="#4060c4" stroke-width="1.4"/>
<path d="M102.00,253.60 V257.20" fill="none" stroke="#4060c4" stroke-width="1.4"/>
<path d="M104.00,253.60 V257.20" fill="none" stroke="#4060c4" stroke-width="1.4"/>
<path d="M110.00,253.60 V257.20" fill="none" stroke="#4060c4" stroke-width="1.4"/>
<path d="M114.00,253.60 V257.20" fill="none" stroke="#4060c4" stroke-width="1.4"/>
<path d="M121.00,253.60 V257.20" fill="none" stroke="#4060c4" stroke-width="1.4"/>
<path d="M124.50,253.60 V257.20" fill="none" stroke="#4060c4" stroke-width="1.4"/>
<path d="M131.00,253.60 V257.20" fill="none" stroke="#4060c4" stroke-width="1.4"/>
<path d="M134.50,253.60 V257.20" fill="none" stroke="#4060c4" stroke-width="1.4"/>
<path d="M140.00,253.60 V257.20" fill="none" stroke="#4060c4" stroke-width="1.4"/>
<path d="M146.00,253.60 V257.20" fill="none" stroke="#4060c4" stroke-width="1.4"/>
<path d="M151.80,253.60 V257.20" fill="none" stroke="#4060c4" stroke-width="1.4"/>
<path d="M157.00,253.60 V257.20" fill="none" stroke="#4060c4" stroke-width="1.4"/>
<path d="M161.50,253.60 V257.20" fill="none" stroke="#4060c4" stroke-width="1.4"/>
<path d="M167.10,253.60 V257.20" fill="none" stroke="#4060c4" stroke-width="1.4"/>
<path d="M44,244.5 H63.3 V246.7 H66.2 V248.2 H72 V251 H74.2 V256.2 H77.8 V260.5 H82.2 V269.3 H96 V275.2 H129.1 V286.6 H188.4" fill="none" stroke="#25c468" stroke-width="1.35"/>
<path d="M67.00,246.40 V250.00" fill="none" stroke="#25c468" stroke-width="1.4"/>
<path d="M70.00,246.70 V250.30" fill="none" stroke="#25c468" stroke-width="1.4"/>
<path d="M79.00,258.70 V262.30" fill="none" stroke="#25c468" stroke-width="1.4"/>
<path d="M95.00,267.50 V271.10" fill="none" stroke="#25c468" stroke-width="1.4"/>
<path d="M102.00,273.40 V277.00" fill="none" stroke="#25c468" stroke-width="1.4"/>
<path d="M106.50,273.40 V277.00" fill="none" stroke="#25c468" stroke-width="1.4"/>
<path d="M109.70,273.40 V277.00" fill="none" stroke="#25c468" stroke-width="1.4"/>
<path d="M115.00,273.40 V277.00" fill="none" stroke="#25c468" stroke-width="1.4"/>
<path d="M120.50,273.40 V277.00" fill="none" stroke="#25c468" stroke-width="1.4"/>
<path d="M126.00,273.40 V277.00" fill="none" stroke="#25c468" stroke-width="1.4"/>
<path d="M132.40,284.80 V288.40" fill="none" stroke="#25c468" stroke-width="1.4"/>
<path d="M143.10,284.80 V288.40" fill="none" stroke="#25c468" stroke-width="1.4"/>
<path d="M152.80,284.80 V288.40" fill="none" stroke="#25c468" stroke-width="1.4"/>
<path d="M165.80,284.80 V288.40" fill="none" stroke="#25c468" stroke-width="1.4"/>
<path d="M179.80,284.80 V288.40" fill="none" stroke="#25c468" stroke-width="1.4"/>
<path d="M188.40,284.80 V288.40" fill="none" stroke="#25c468" stroke-width="1.4"/>
<path d="M44,244.5 H60.4 V252.5 H82.2 V263 H93.5 V274.1 H101.1 V284.9 H114 V307.6 H115.5 V335.6 H158.2" fill="none" stroke="#ac54ac" stroke-width="1.35"/>
<path d="M67.00,250.70 V254.30" fill="none" stroke="#ac54ac" stroke-width="1.4"/>
<path d="M74.00,250.70 V254.30" fill="none" stroke="#ac54ac" stroke-width="1.4"/>
<path d="M79.00,250.70 V254.30" fill="none" stroke="#ac54ac" stroke-width="1.4"/>
<path d="M89.00,261.20 V264.80" fill="none" stroke="#ac54ac" stroke-width="1.4"/>
<path d="M114.00,305.80 V309.40" fill="none" stroke="#ac54ac" stroke-width="1.4"/>
<path d="M132.40,333.80 V337.40" fill="none" stroke="#ac54ac" stroke-width="1.4"/>
<path d="M145.30,333.80 V337.40" fill="none" stroke="#ac54ac" stroke-width="1.4"/>
<path d="M155.00,333.80 V337.40" fill="none" stroke="#ac54ac" stroke-width="1.4"/>
<path d="M158.20,333.80 V337.40" fill="none" stroke="#ac54ac" stroke-width="1.4"/>
<text x="137.20" y="249.40" font-family='"Liberation Serif", serif' font-size="7.1" textLength="30.30" lengthAdjust="spacingAndGlyphs" text-anchor="start" fill="#151515" stroke="#151515" stroke-width="0.33">WT, ETE-</text>
<text x="142.10" y="273.80" font-family='"Liberation Serif", serif' font-size="7.1" textLength="31.20" lengthAdjust="spacingAndGlyphs" text-anchor="start" fill="#151515" stroke="#151515" stroke-width="0.33">WT, ETE+</text>
<text x="147.00" y="298.60" font-family='"Liberation Serif", serif' font-size="7.1" textLength="46.20" lengthAdjust="spacingAndGlyphs" text-anchor="start" fill="#151515" stroke="#151515" stroke-width="0.33">Mutated, ETE-</text>
<text x="127.60" y="330.50" font-family='"Liberation Serif", serif' font-size="7.1" textLength="47.50" lengthAdjust="spacingAndGlyphs" text-anchor="start" fill="#151515" stroke="#151515" stroke-width="0.33">Mutated, ETE+</text>
<text x="118.70" y="404.50" font-family='"Liberation Serif", serif' font-size="9.2" font-weight="bold" textLength="79.50" lengthAdjust="spacingAndGlyphs" text-anchor="start" fill="#111" stroke="#111" stroke-width="0.25">p=0.001 (Long Rank)</text>
<text x="216.20" y="245.00" font-family='"Liberation Serif", serif' font-size="8.8" font-weight="bold" textLength="46.70" lengthAdjust="spacingAndGlyphs" text-anchor="start" fill="#111" stroke="#111" stroke-width="0.3">BRAFV600E</text>
<text x="220.90" y="258.90" font-family='"Liberation Serif", serif' font-size="7.4" textLength="29.30" lengthAdjust="spacingAndGlyphs" text-anchor="start" fill="#151515" stroke="#151515" stroke-width="0.33">WT, ETE-</text>
<path d="M209.70,257.60 H214.50 V254.20 H219.80 V257.60" fill="none" stroke="#4060c4" stroke-width="1.3"/>
<text x="220.90" y="268.00" font-family='"Liberation Serif", serif' font-size="7.4" textLength="46.30" lengthAdjust="spacingAndGlyphs" text-anchor="start" fill="#151515" stroke="#151515" stroke-width="0.33">Mutated, ETE-</text>
<path d="M209.70,266.70 H214.50 V263.30 H219.80 V266.70" fill="none" stroke="#25c468" stroke-width="1.3"/>
<text x="220.90" y="277.30" font-family='"Liberation Serif", serif' font-size="7.4" textLength="31.90" lengthAdjust="spacingAndGlyphs" text-anchor="start" fill="#151515" stroke="#151515" stroke-width="0.33">WT, ETE+</text>
<path d="M209.70,276.00 H214.50 V272.60 H219.80 V276.00" fill="none" stroke="#dbd2a8" stroke-width="1.3"/>
<text x="220.90" y="286.60" font-family='"Liberation Serif", serif' font-size="7.4" textLength="47.60" lengthAdjust="spacingAndGlyphs" text-anchor="start" fill="#151515" stroke="#151515" stroke-width="0.33">Mutated, ETE+</text>
<path d="M209.70,285.30 H214.50 V281.90 H219.80 V285.30" fill="none" stroke="#ac54ac" stroke-width="1.3"/>
<text x="220.90" y="295.80" font-family='"Liberation Serif", serif' font-size="7.4" textLength="28.20" lengthAdjust="spacingAndGlyphs" text-anchor="start" fill="#151515" stroke="#151515" stroke-width="0.33">censored</text>
<path d="M209.70,293.40 H219.80 M214.75,290.40 V296.40" fill="none" stroke="#4060c4" stroke-width="0.75" opacity="0.75"/>
<text x="220.90" y="304.90" font-family='"Liberation Serif", serif' font-size="7.4" textLength="28.20" lengthAdjust="spacingAndGlyphs" text-anchor="start" fill="#151515" stroke="#151515" stroke-width="0.33">censored</text>
<path d="M209.70,302.50 H219.80 M214.75,299.50 V305.50" fill="none" stroke="#25c468" stroke-width="0.75" opacity="0.75"/>
<text x="220.90" y="314.50" font-family='"Liberation Serif", serif' font-size="7.4" textLength="28.20" lengthAdjust="spacingAndGlyphs" text-anchor="start" fill="#151515" stroke="#151515" stroke-width="0.33">censored</text>
<path d="M209.70,312.10 H219.80 M214.75,309.10 V315.10" fill="none" stroke="#dbd2a8" stroke-width="0.75" opacity="0.75"/>
<text x="220.90" y="323.70" font-family='"Liberation Serif", serif' font-size="7.4" textLength="28.20" lengthAdjust="spacingAndGlyphs" text-anchor="start" fill="#151515" stroke="#151515" stroke-width="0.33">censored</text>
<path d="M209.70,321.30 H219.80 M214.75,318.30 V324.30" fill="none" stroke="#ac54ac" stroke-width="0.75" opacity="0.75"/>
<text x="11.50" y="450.60" font-family='"Liberation Serif", serif' font-size="7.2" textLength="133.30" lengthAdjust="spacingAndGlyphs" text-anchor="start" fill="#2a2a2a" stroke="#2a2a2a" stroke-width="0.12">WT: wild type; ETE: extrathyroidal extension.</text>
<rect x="231.60" y="428.30" width="29.30" height="25.40" fill="#fff" stroke="#444" stroke-width="1.1"/>
<text x="239.90" y="445.50" font-family='"Liberation Serif", serif' font-size="15" font-weight="bold" textLength="8.90" lengthAdjust="spacingAndGlyphs" text-anchor="start" fill="#111" stroke="#111" stroke-width="0.3">c.</text>
<rect x="305.5" y="235.6" width="173.2" height="181.9" fill="#f0f0f0" stroke="#8a8a8a" stroke-width="1.5"/>
<rect x="306.75" y="236.85" width="170.7" height="179.4" fill="none" stroke="#fafafa" stroke-width="0.9"/>
<path d="M302.90,408.60 H305.50" fill="none" stroke="#444" stroke-width="0.9"/>
<text x="302.20" y="410.80" font-family='"Liberation Sans", sans-serif' font-size="5.1" text-anchor="end" fill="#1a1a1a" stroke="#1a1a1a" stroke-width="0.12">0.0</text>
<path d="M302.90,375.80 H305.50" fill="none" stroke="#444" stroke-width="0.9"/>
<text x="302.20" y="378.00" font-family='"Liberation Sans", sans-serif' font-size="5.1" text-anchor="end" fill="#1a1a1a" stroke="#1a1a1a" stroke-width="0.12">0.2</text>
<path d="M302.90,343.00 H305.50" fill="none" stroke="#444" stroke-width="0.9"/>
<text x="302.20" y="345.20" font-family='"Liberation Sans", sans-serif' font-size="5.1" text-anchor="end" fill="#1a1a1a" stroke="#1a1a1a" stroke-width="0.12">0.4</text>
<path d="M302.90,310.20 H305.50" fill="none" stroke="#444" stroke-width="0.9"/>
<text x="302.20" y="312.40" font-family='"Liberation Sans", sans-serif' font-size="5.1" text-anchor="end" fill="#1a1a1a" stroke="#1a1a1a" stroke-width="0.12">0.6</text>
<path d="M302.90,277.40 H305.50" fill="none" stroke="#444" stroke-width="0.9"/>
<text x="302.20" y="279.60" font-family='"Liberation Sans", sans-serif' font-size="5.1" text-anchor="end" fill="#1a1a1a" stroke="#1a1a1a" stroke-width="0.12">0.8</text>
<path d="M302.90,244.60 H305.50" fill="none" stroke="#444" stroke-width="0.9"/>
<text x="302.20" y="246.80" font-family='"Liberation Sans", sans-serif' font-size="5.1" text-anchor="end" fill="#1a1a1a" stroke="#1a1a1a" stroke-width="0.12">1.0</text>
<path d="M313.90,417.50 V420.30" fill="none" stroke="#444" stroke-width="0.9"/>
<text x="313.90" y="425.60" font-family='"Liberation Sans", sans-serif' font-size="5.1" text-anchor="middle" fill="#1a1a1a" stroke="#1a1a1a" stroke-width="0.12">.0</text>
<path d="M341.75,417.50 V420.30" fill="none" stroke="#444" stroke-width="0.9"/>
<text x="341.75" y="425.60" font-family='"Liberation Sans", sans-serif' font-size="5.1" text-anchor="middle" fill="#1a1a1a" stroke="#1a1a1a" stroke-width="0.12">25.0</text>
<path d="M369.60,417.50 V420.30" fill="none" stroke="#444" stroke-width="0.9"/>
<text x="369.60" y="425.60" font-family='"Liberation Sans", sans-serif' font-size="5.1" text-anchor="middle" fill="#1a1a1a" stroke="#1a1a1a" stroke-width="0.12">50.0</text>
<path d="M397.45,417.50 V420.30" fill="none" stroke="#444" stroke-width="0.9"/>
<text x="397.45" y="425.60" font-family='"Liberation Sans", sans-serif' font-size="5.1" text-anchor="middle" fill="#1a1a1a" stroke="#1a1a1a" stroke-width="0.12">75.0</text>
<path d="M425.30,417.50 V420.30" fill="none" stroke="#444" stroke-width="0.9"/>
<text x="425.30" y="425.60" font-family='"Liberation Sans", sans-serif' font-size="5.1" text-anchor="middle" fill="#1a1a1a" stroke="#1a1a1a" stroke-width="0.12">100.0</text>
<path d="M453.15,417.50 V420.30" fill="none" stroke="#444" stroke-width="0.9"/>
<text x="453.15" y="425.60" font-family='"Liberation Sans", sans-serif' font-size="5.1" text-anchor="middle" fill="#1a1a1a" stroke="#1a1a1a" stroke-width="0.12">125.0</text>
<text x="0" y="0" transform="translate(288.60,327.05) rotate(-90)" font-family='"Liberation Serif", serif' font-size="9.2" font-weight="bold" text-anchor="middle" textLength="125.70" lengthAdjust="spacingAndGlyphs" fill="#111" stroke="#111" stroke-width="0.2">Cumulative Event Free Survival</text>
<text x="364.00" y="436.80" font-family='"Liberation Serif", serif' font-size="9.2" font-weight="bold" textLength="56.50" lengthAdjust="spacingAndGlyphs" text-anchor="start" fill="#111" stroke="#111" stroke-width="0.2">Time (months)</text>
<path d="M314.6,244.5 H341.5 V298.7 H391.8" fill="none" stroke="#dbd2a8" stroke-width="1.35"/>
<path d="M384.50,296.90 V300.50" fill="none" stroke="#dbd2a8" stroke-width="1.0"/>
<path d="M314.6,244.5 H337.8 V247.5 H352.6 V251.1 H360.7 V254.9 H441.8" fill="none" stroke="#4060c4" stroke-width="1.35"/>
<path d="M340.00,245.70 V249.30" fill="none" stroke="#4060c4" stroke-width="1.4"/>
<path d="M344.00,245.70 V249.30" fill="none" stroke="#4060c4" stroke-width="1.4"/>
<path d="M350.00,245.70 V249.30" fill="none" stroke="#4060c4" stroke-width="1.4"/>
<path d="M383.60,253.10 V256.70" fill="none" stroke="#4060c4" stroke-width="1.4"/>
<path d="M388.20,253.10 V256.70" fill="none" stroke="#4060c4" stroke-width="1.4"/>
<path d="M391.80,253.10 V256.70" fill="none" stroke="#4060c4" stroke-width="1.4"/>
<path d="M394.50,253.10 V256.70" fill="none" stroke="#4060c4" stroke-width="1.4"/>
<path d="M401.80,253.10 V256.70" fill="none" stroke="#4060c4" stroke-width="1.4"/>
<path d="M404.50,253.10 V256.70" fill="none" stroke="#4060c4" stroke-width="1.4"/>
<path d="M410.00,253.10 V256.70" fill="none" stroke="#4060c4" stroke-width="1.4"/>
<path d="M416.40,253.10 V256.70" fill="none" stroke="#4060c4" stroke-width="1.4"/>
<path d="M419.10,253.10 V256.70" fill="none" stroke="#4060c4" stroke-width="1.4"/>
<path d="M423.60,253.10 V256.70" fill="none" stroke="#4060c4" stroke-width="1.4"/>
<path d="M428.20,253.10 V256.70" fill="none" stroke="#4060c4" stroke-width="1.4"/>
<path d="M432.70,253.10 V256.70" fill="none" stroke="#4060c4" stroke-width="1.4"/>
<path d="M437.30,253.10 V256.70" fill="none" stroke="#4060c4" stroke-width="1.4"/>
<path d="M441.80,253.10 V256.70" fill="none" stroke="#4060c4" stroke-width="1.4"/>
<path d="M314.6,244.5 H334.5 V248.6 H362.4 V253.6 H383.6 V259.6 H386.4 V268.7 H399.1 V278.7 H460" fill="none" stroke="#25c468" stroke-width="1.35"/>
<path d="M337.00,246.80 V250.40" fill="none" stroke="#25c468" stroke-width="1.4"/>
<path d="M348.00,246.80 V250.40" fill="none" stroke="#25c468" stroke-width="1.4"/>
<path d="M355.00,246.80 V250.40" fill="none" stroke="#25c468" stroke-width="1.4"/>
<path d="M375.00,251.80 V255.40" fill="none" stroke="#25c468" stroke-width="1.4"/>
<path d="M385.00,257.80 V261.40" fill="none" stroke="#25c468" stroke-width="1.4"/>
<path d="M390.90,266.90 V270.50" fill="none" stroke="#25c468" stroke-width="1.4"/>
<path d="M394.50,266.90 V270.50" fill="none" stroke="#25c468" stroke-width="1.4"/>
<path d="M403.60,276.90 V280.50" fill="none" stroke="#25c468" stroke-width="1.4"/>
<path d="M407.30,276.90 V280.50" fill="none" stroke="#25c468" stroke-width="1.4"/>
<path d="M413.60,276.90 V280.50" fill="none" stroke="#25c468" stroke-width="1.4"/>
<path d="M421.80,276.90 V280.50" fill="none" stroke="#25c468" stroke-width="1.4"/>
<path d="M423.60,276.90 V280.50" fill="none" stroke="#25c468" stroke-width="1.4"/>
<path d="M429.10,276.90 V280.50" fill="none" stroke="#25c468" stroke-width="1.4"/>
<path d="M436.40,276.90 V280.50" fill="none" stroke="#25c468" stroke-width="1.4"/>
<path d="M443.60,276.90 V280.50" fill="none" stroke="#25c468" stroke-width="1.4"/>
<path d="M450.00,276.90 V280.50" fill="none" stroke="#25c468" stroke-width="1.4"/>
<path d="M453.60,276.90 V280.50" fill="none" stroke="#25c468" stroke-width="1.4"/>
<path d="M460.00,276.90 V280.50" fill="none" stroke="#25c468" stroke-width="1.4"/>
<path d="M314.6,244.5 H330.5 V251.1 H345 V259.3 H348.5 V276.5 H353 V292.7 H354 V302.7 H367.3 V313.1 H372.2 V325.1 H384.5 V341.8 H386.4 V358.6 H415.5" fill="none" stroke="#ac54ac" stroke-width="1.35"/>
<path d="M338.00,249.30 V252.90" fill="none" stroke="#ac54ac" stroke-width="1.4"/>
<path d="M342.00,249.30 V252.90" fill="none" stroke="#ac54ac" stroke-width="1.4"/>
<path d="M378.70,323.30 V326.90" fill="none" stroke="#ac54ac" stroke-width="1.4"/>
<path d="M396.90,356.80 V360.40" fill="none" stroke="#ac54ac" stroke-width="1.4"/>
<path d="M415.50,356.80 V360.40" fill="none" stroke="#ac54ac" stroke-width="1.4"/>
<text x="399.10" y="247.60" font-family='"Liberation Serif", serif' font-size="7.1" textLength="32.20" lengthAdjust="spacingAndGlyphs" text-anchor="start" fill="#151515" stroke="#151515" stroke-width="0.33">WT, LnM-</text>
<text x="410.50" y="272.10" font-family='"Liberation Serif", serif' font-size="7.1" textLength="48.60" lengthAdjust="spacingAndGlyphs" text-anchor="start" fill="#151515" stroke="#151515" stroke-width="0.33">Mutated, LnM-</text>
<text x="322.80" y="278.70" font-family='"Liberation Serif", serif' font-size="7.1" textLength="13.40" lengthAdjust="spacingAndGlyphs" text-anchor="start" fill="#151515" stroke="#151515" stroke-width="0.33">WT,</text>
<text x="320.10" y="285.70" font-family='"Liberation Serif", serif' font-size="7.1" textLength="18.50" lengthAdjust="spacingAndGlyphs" text-anchor="start" fill="#151515" stroke="#151515" stroke-width="0.33">LnM+</text>
<text x="373.50" y="371.00" font-family='"Liberation Serif", serif' font-size="7.1" textLength="49.80" lengthAdjust="spacingAndGlyphs" text-anchor="start" fill="#151515" stroke="#151515" stroke-width="0.33">Mutated, LnM+</text>
<text x="392.70" y="409.30" font-family='"Liberation Serif", serif' font-size="9.2" font-weight="bold" textLength="79.00" lengthAdjust="spacingAndGlyphs" text-anchor="start" fill="#111" stroke="#111" stroke-width="0.25">p&lt;0.001 (Long Rank)</text>
<text x="485.80" y="245.10" font-family='"Liberation Serif", serif' font-size="8.8" font-weight="bold" textLength="47.40" lengthAdjust="spacingAndGlyphs" text-anchor="start" fill="#111" stroke="#111" stroke-width="0.3">BRAFV600E</text>
<text x="490.10" y="258.90" font-family='"Liberation Serif", serif' font-size="7.4" textLength="32.70" lengthAdjust="spacingAndGlyphs" text-anchor="start" fill="#151515" stroke="#151515" stroke-width="0.33">WT, LnM-</text>
<path d="M479.30,257.60 H484.30 V254.20 H489.00 V257.60" fill="none" stroke="#4060c4" stroke-width="0.8"/>
<text x="490.10" y="268.00" font-family='"Liberation Serif", serif' font-size="7.4" textLength="49.60" lengthAdjust="spacingAndGlyphs" text-anchor="start" fill="#151515" stroke="#151515" stroke-width="0.33">Mutated, LnM-</text>
<path d="M479.30,266.70 H484.30 V263.30 H489.00 V266.70" fill="none" stroke="#25c468" stroke-width="0.8"/>
<text x="490.10" y="277.30" font-family='"Liberation Serif", serif' font-size="7.4" textLength="34.90" lengthAdjust="spacingAndGlyphs" text-anchor="start" fill="#151515" stroke="#151515" stroke-width="0.33">WT, LnM+</text>
<path d="M479.30,276.00 H484.30 V272.60 H489.00 V276.00" fill="none" stroke="#dbd2a8" stroke-width="0.8"/>
<text x="490.10" y="286.60" font-family='"Liberation Serif", serif' font-size="7.4" textLength="50.60" lengthAdjust="spacingAndGlyphs" text-anchor="start" fill="#151515" stroke="#151515" stroke-width="0.33">Mutated, LnM+</text>
<path d="M479.30,285.30 H484.30 V281.90 H489.00 V285.30" fill="none" stroke="#ac54ac" stroke-width="0.8"/>
<text x="490.10" y="295.80" font-family='"Liberation Serif", serif' font-size="7.4" textLength="28.70" lengthAdjust="spacingAndGlyphs" text-anchor="start" fill="#151515" stroke="#151515" stroke-width="0.33">censored</text>
<path d="M479.30,293.40 H489.00 M484.15,290.40 V296.40" fill="none" stroke="#4060c4" stroke-width="0.75" opacity="0.75"/>
<text x="490.10" y="304.90" font-family='"Liberation Serif", serif' font-size="7.4" textLength="28.70" lengthAdjust="spacingAndGlyphs" text-anchor="start" fill="#151515" stroke="#151515" stroke-width="0.33">censored</text>
<path d="M479.30,302.50 H489.00 M484.15,299.50 V305.50" fill="none" stroke="#25c468" stroke-width="0.75" opacity="0.75"/>
<text x="490.10" y="314.50" font-family='"Liberation Serif", serif' font-size="7.4" textLength="28.70" lengthAdjust="spacingAndGlyphs" text-anchor="start" fill="#151515" stroke="#151515" stroke-width="0.33">censored</text>
<path d="M479.30,312.10 H489.00 M484.15,309.10 V315.10" fill="none" stroke="#dbd2a8" stroke-width="0.75" opacity="0.75"/>
<text x="490.10" y="323.70" font-family='"Liberation Serif", serif' font-size="7.4" textLength="28.70" lengthAdjust="spacingAndGlyphs" text-anchor="start" fill="#151515" stroke="#151515" stroke-width="0.33">censored</text>
<path d="M479.30,321.30 H489.00 M484.15,318.30 V324.30" fill="none" stroke="#ac54ac" stroke-width="0.75" opacity="0.75"/>
<text x="281.80" y="450.80" font-family='"Liberation Serif", serif' font-size="7.2" textLength="134.00" lengthAdjust="spacingAndGlyphs" text-anchor="start" fill="#2a2a2a" stroke="#2a2a2a" stroke-width="0.12">WT: wild type; LnM: Lymph node metastasis.</text>
<rect x="506.30" y="428.30" width="29.20" height="24.80" fill="#fff" stroke="#444" stroke-width="1.1"/>
<text x="514.00" y="445.50" font-family='"Liberation Serif", serif' font-size="15" font-weight="bold" textLength="13.00" lengthAdjust="spacingAndGlyphs" text-anchor="start" fill="#111" stroke="#111" stroke-width="0.3">d.</text>
</svg>
</body></html>
